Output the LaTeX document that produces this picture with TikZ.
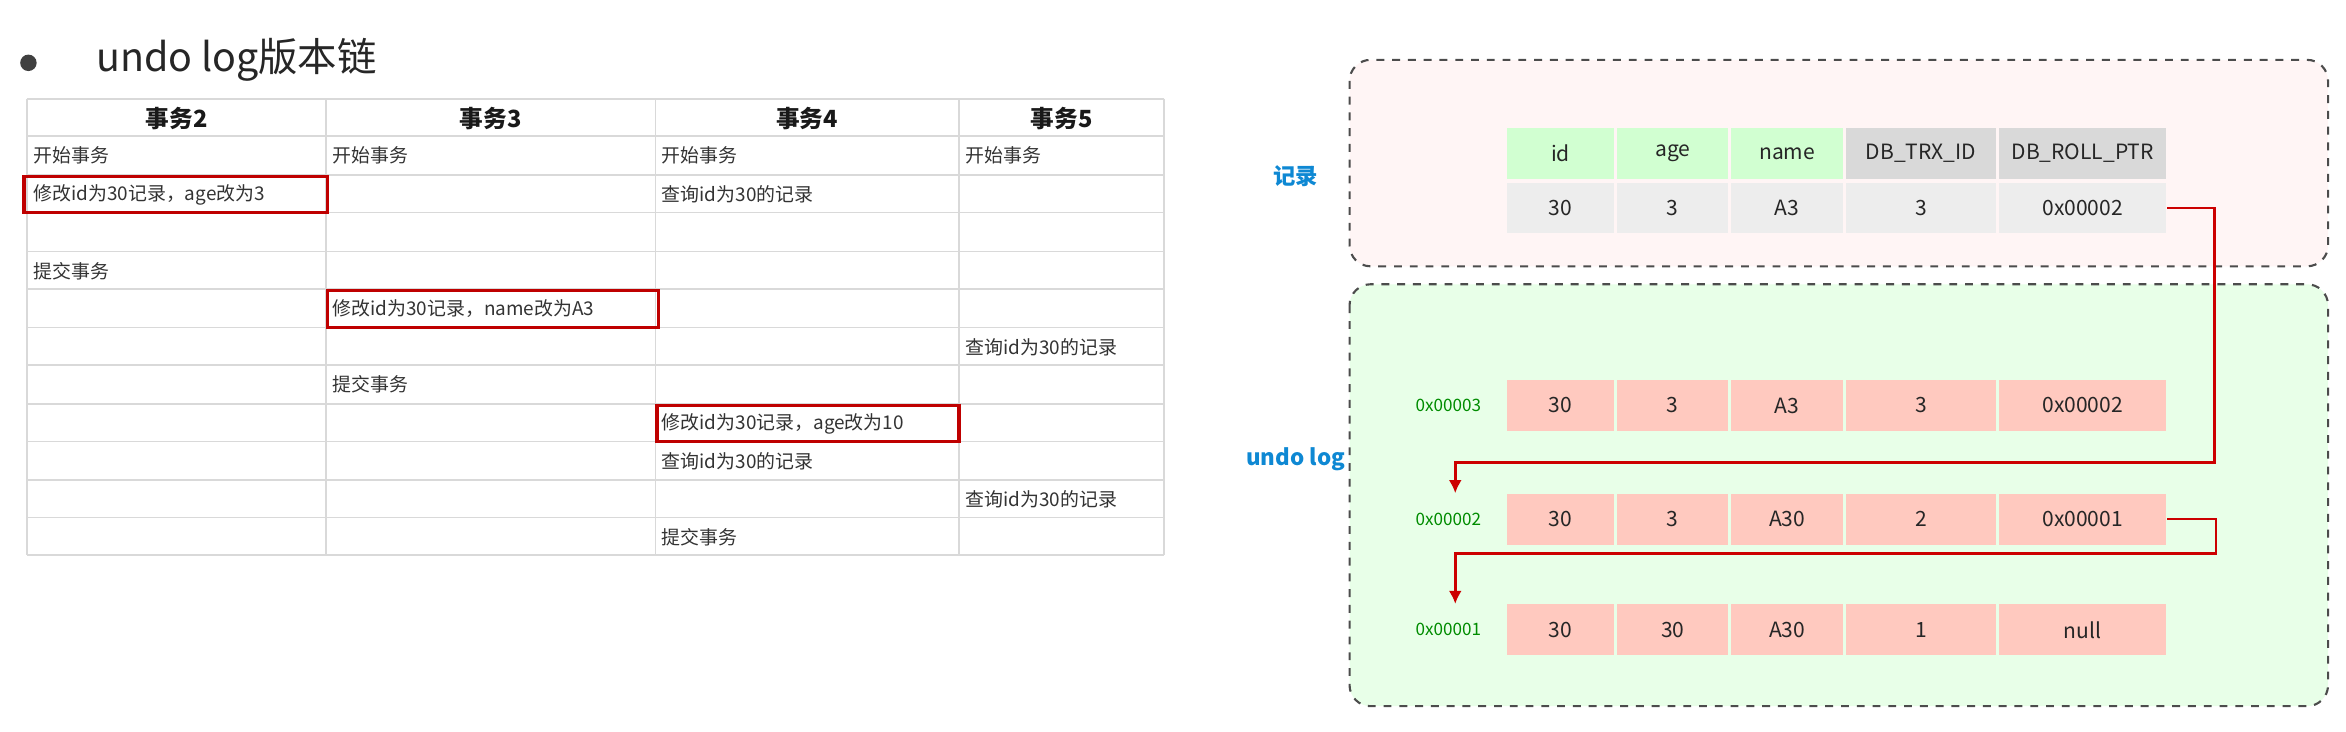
\documentclass[tikz,border=0pt]{standalone}
\usepackage{fontspec}
\setmainfont{Noto Sans CJK SC}
\begin{document}
\begin{tikzpicture}[x=0.02cm,y=-0.02cm,
  grid/.style={draw=black!15,line width=0.6pt},
  ctext/.style={anchor=west,font=\fontsize{7.2}{8}\selectfont,text=black!80,inner sep=0pt},
  hdr/.style={font=\fontsize{9}{10}\selectfont\bfseries,text=black!90},
  redbox/.style={draw=red!75!black,line width=1.3pt},
  cell/.style={minimum height=0.68cm,inner sep=0pt,font=\fontsize{8}{9}\selectfont,text=black!85},
  addr/.style={font=\fontsize{6.5}{7}\selectfont,text=green!55!black},
  blab/.style={font=\fontsize{8.5}{9}\selectfont\bfseries,text=cyan!70!blue},
  ptr/.style={draw=red!80!black,line width=1pt,-{Latex[length=5pt,width=5pt]}}]
\useasboundingbox (0,0) rectangle (1568,489);
\usetikzlibrary{arrows.meta}
% title
\fill[black!75] (19,42) circle (5.5);
\node[anchor=west,font=\fontsize{15}{16}\selectfont,text=black!85] (title) at (58,40) {undo log版本链};
% table grid
\foreach \y in {66,91,117,142,168,193,219,244,270,295,321,346,371} \draw[grid] (18,\y) -- (778,\y);
\foreach \x in {18,218,438,641,778} \draw[grid] (\x,66) -- (\x,371);
\node[hdr] (h2) at (118,79) {事务2};
\node[hdr] (h3) at (328,79) {事务3};
\node[hdr] (h4) at (539.5,79) {事务4};
\node[hdr] (h5) at (709.5,79) {事务5};
\node[ctext] (a1) at (22,104) {开始事务};
\node[ctext] (a2) at (222,104) {开始事务};
\node[ctext] (a3) at (442,104) {开始事务};
\node[ctext] (a4) at (645,104) {开始事务};
\node[ctext] (b1) at (22,130) {修改id为30记录，age改为3};
\node[ctext] (b3) at (442,130) {查询id为30的记录};
\node[ctext] (c1) at (22,181) {提交事务};
\node[ctext] (d2) at (222,206) {修改id为30记录，name改为A3};
\node[ctext] (e4) at (645,232) {查询id为30的记录};
\node[ctext] (f2) at (222,257) {提交事务};
\node[ctext] (g3) at (442,283) {修改id为30记录，age改为10};
\node[ctext] (h3b) at (442,308) {查询id为30的记录};
\node[ctext] (i4) at (645,334) {查询id为30的记录};
\node[ctext] (j3) at (442,359) {提交事务};
\draw[redbox] (16,118) rectangle (219,142);
\draw[redbox] (219,194) rectangle (440,219);
\draw[redbox] (439,271) rectangle (641,295);
% boxes
\draw[dashed,draw=black!70,line width=0.8pt,fill=red!4,rounded corners=8pt] (902,40) rectangle (1556,178);
\draw[dashed,draw=black!70,line width=0.8pt,fill=green!9,rounded corners=8pt] (902,190) rectangle (1556,472);
\node[blab] (lrec) at (866,118) {记录};
\node[blab] (lundo) at (866,307) {undo log};
% record table
\def\xs{{1006,1080,1156,1233,1335,1449}}
\foreach \i/\t/\c in {0/id/green!18,1/age/green!18,2/name/green!18,3/DB\_TRX\_ID/black!15,4/DB\_ROLL\_PTR/black!15}{
  \pgfmathsetmacro\xa{\xs[\i]}\pgfmathsetmacro\xb{\xs[\i+1]}
  \node[cell,fill=\c,minimum width=(\xb-\xa-2)*0.02cm,minimum height=0.68cm] (hc\i) at ({(\xa+\xb)/2},102.5) {\t};}
\foreach \i/\t in {0/30,1/3,2/A3,3/3,4/0x00002}{
  \pgfmathsetmacro\xa{\xs[\i]}\pgfmathsetmacro\xb{\xs[\i+1]}
  \node[cell,fill=black!7,minimum width=(\xb-\xa-2)*0.02cm] (rc\i) at ({(\xa+\xb)/2},139) {\t};}
\foreach \r/\y/\ad/\va/\vb/\vc/\vd/\ve in {3/271/0x00003/30/3/A3/3/0x00002,2/347/0x00002/30/3/A30/2/0x00001,1/421/0x00001/30/30/A30/1/null}{
  \node[addr] (ad\r) at (968,\y) {\ad};
  \foreach \i/\t in {0/\va,1/\vb,2/\vc,3/\vd,4/\ve}{
    \pgfmathsetmacro\xa{\xs[\i]}\pgfmathsetmacro\xb{\xs[\i+1]}
    \node[cell,fill=orange!30!red!25!white,minimum width=(\xb-\xa-2)*0.02cm] (u\r c\i) at ({(\xa+\xb)/2},\y) {\t};}}
% pointers
\coordinate (k1) at (1480,309);
\coordinate (k2) at (1481,370);
\draw[ptr] (rc4.east) -| (k1) -| ([xshift=-34*0.02cm]u2c0.north west);
\draw[ptr] (u2c4.east) -| (k2) -| ([xshift=-34*0.02cm]u1c0.north west);
\end{tikzpicture}
\end{document}
